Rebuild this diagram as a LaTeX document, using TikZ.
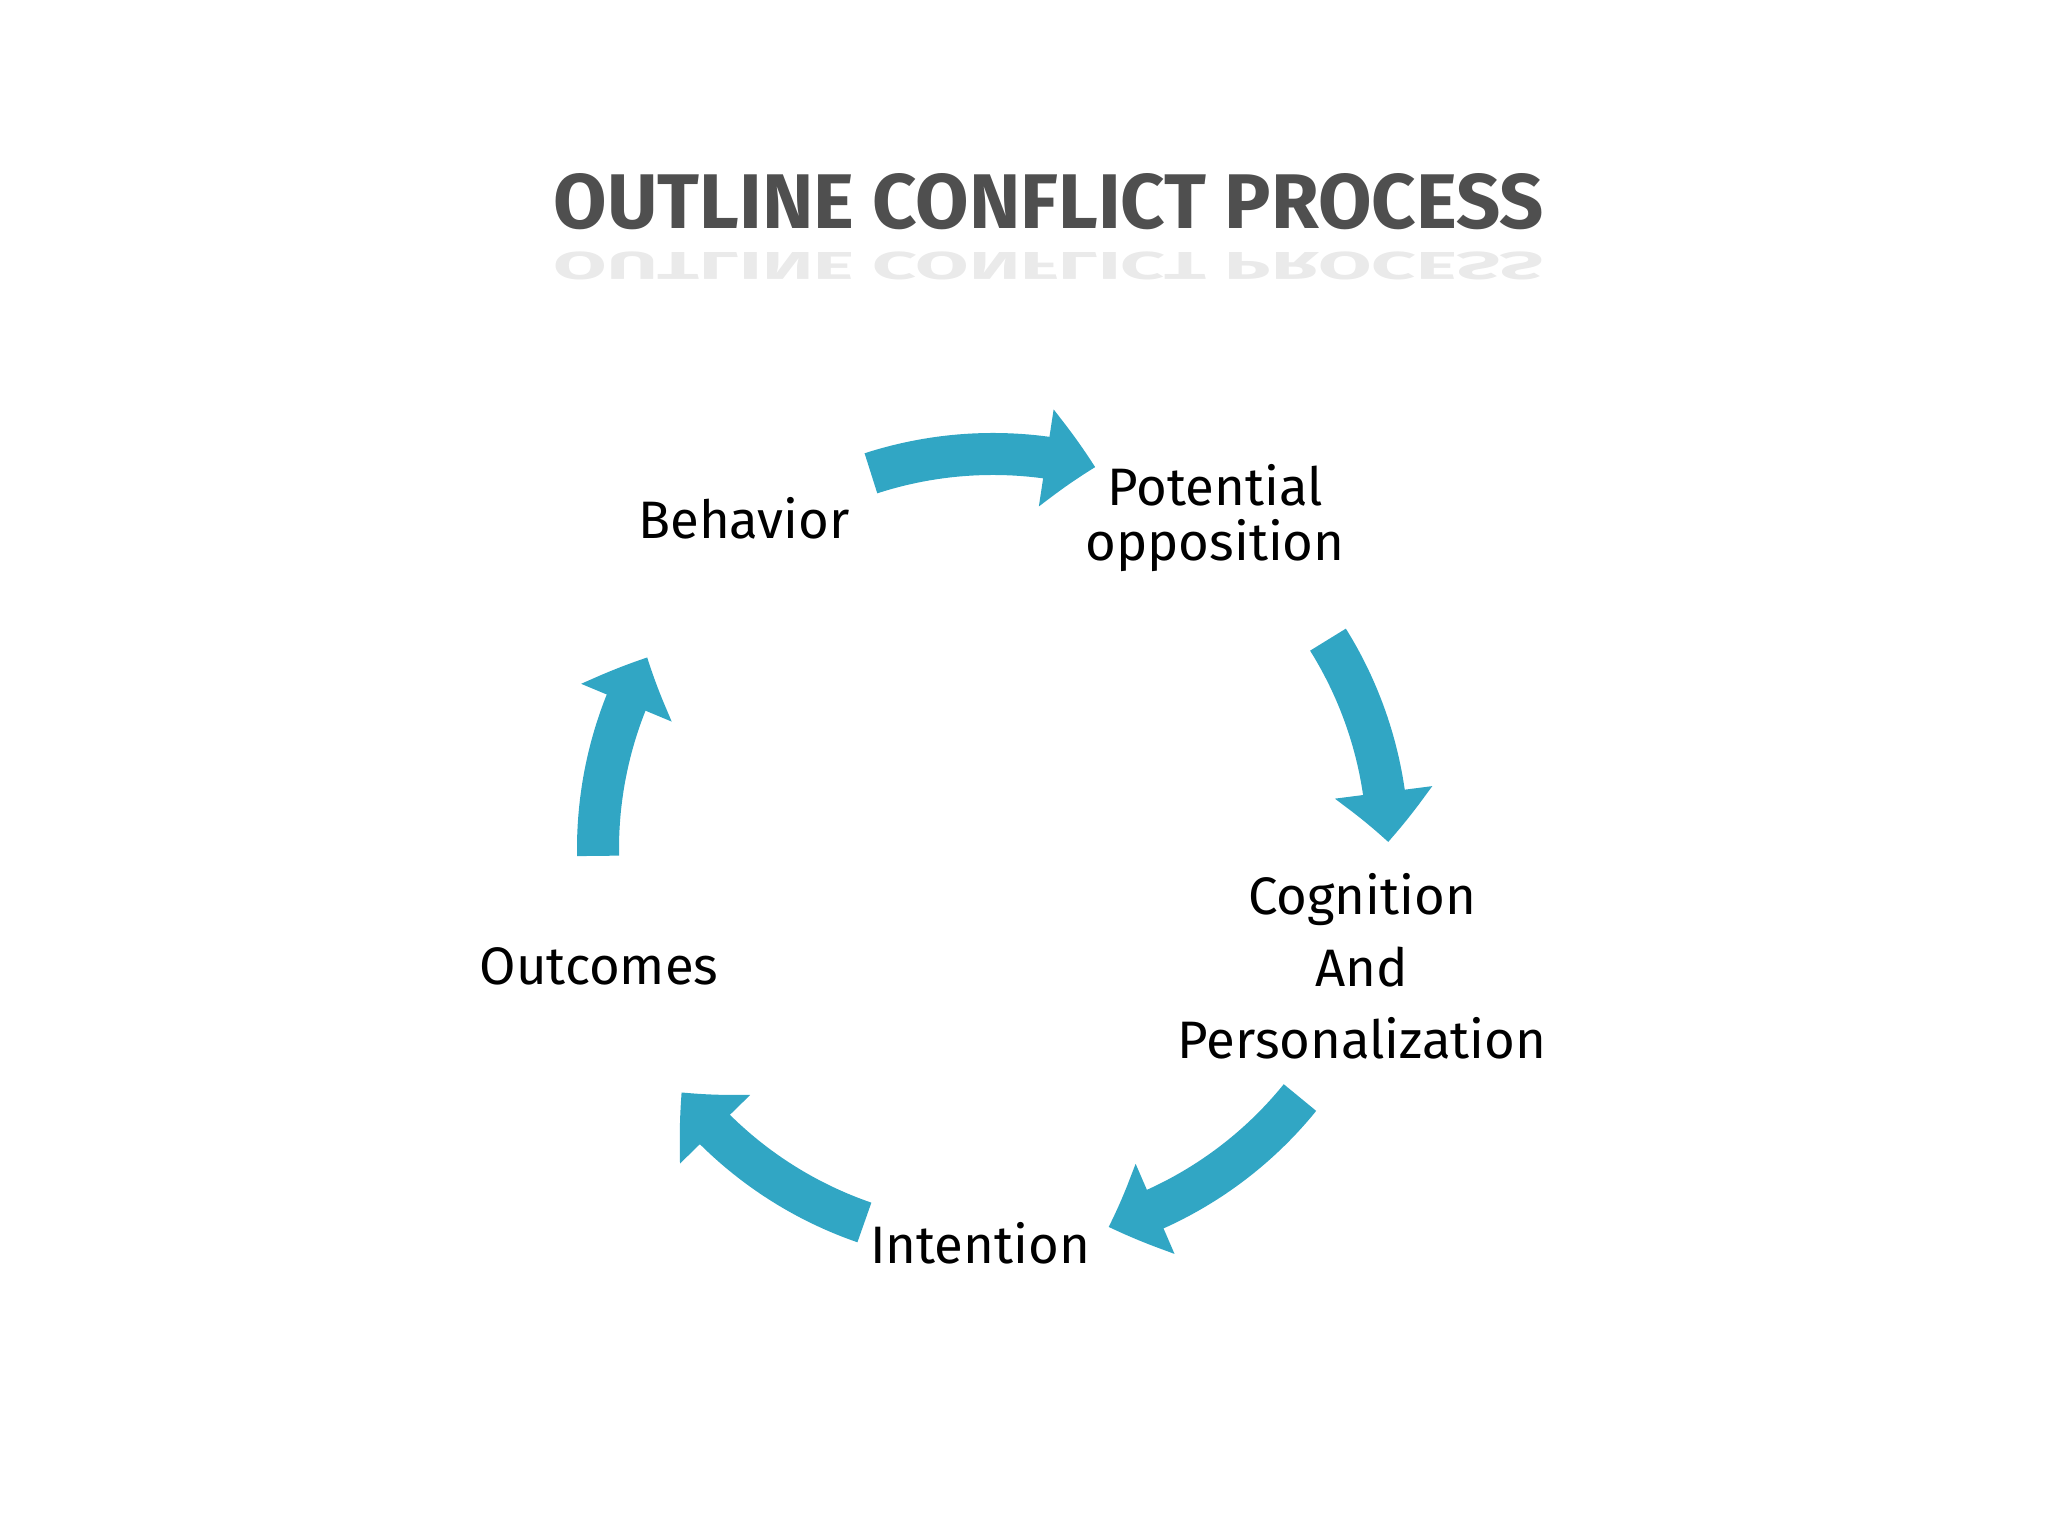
\documentclass[tikz,border=0pt]{standalone}
\usepackage{fontspec}
\setmainfont{Fira Sans}
\usetikzlibrary{arrows.meta,calc,bending}
\definecolor{arrc}{HTML}{31A6C4}
\definecolor{titc}{HTML}{4F4F4F}
\tikzset{
  arr/.style={draw=arrc,line width=0.42cm,-{Triangle[width=0.95cm,length=0.5cm,bend]}},
  lbl/.style={font=\fontsize{15}{15.5}\selectfont,align=center,text=black}
}
\begin{document}
\begin{tikzpicture}
\useasboundingbox (0,0) rectangle (20.48,15.36);
\coordinate (c) at (9.93,6.87);
\def\r{3.95}
\node[text=titc] (title) at (10.49,13.34) {\resizebox{9.9cm}{!}{\bfseries OUTLINE CONFLICT PROCESS}};
\node[text=titc,opacity=0.12,yscale=-0.5,anchor=north] (refl) at (10.49,12.5) {\resizebox{9.9cm}{!}{\bfseries OUTLINE CONFLICT PROCESS}};
\draw[arr] ($(c)+(108:\r)$) arc[start angle=108,end angle=75,radius=\r];
\draw[arr] ($(c)+(32:\r)$) arc[start angle=32,end angle=1,radius=\r];
\draw[arr] ($(c)+(-39:\r)$) arc[start angle=-39,end angle=-73,radius=\r];
\draw[arr] ($(c)+(-109:\r)$) arc[start angle=-109,end angle=-142,radius=\r];
\draw[arr] ($(c)+(181:\r)$) arc[start angle=181,end angle=151,radius=\r];
\node[lbl] (beh) at (7.44,10.18) {Behavior};
\node[lbl] (pot) at (12.15,10.18) {Potential\\opposition};
\node[lbl,font=\fontsize{15}{20.5}\selectfont] (cog) at (13.62,5.70) {Cognition\\And\\Personalization};
\node[lbl] (int) at (9.80,2.93) {Intention};
\node[lbl] (out) at (5.99,5.70) {Outcomes};
\end{tikzpicture}
\end{document}
